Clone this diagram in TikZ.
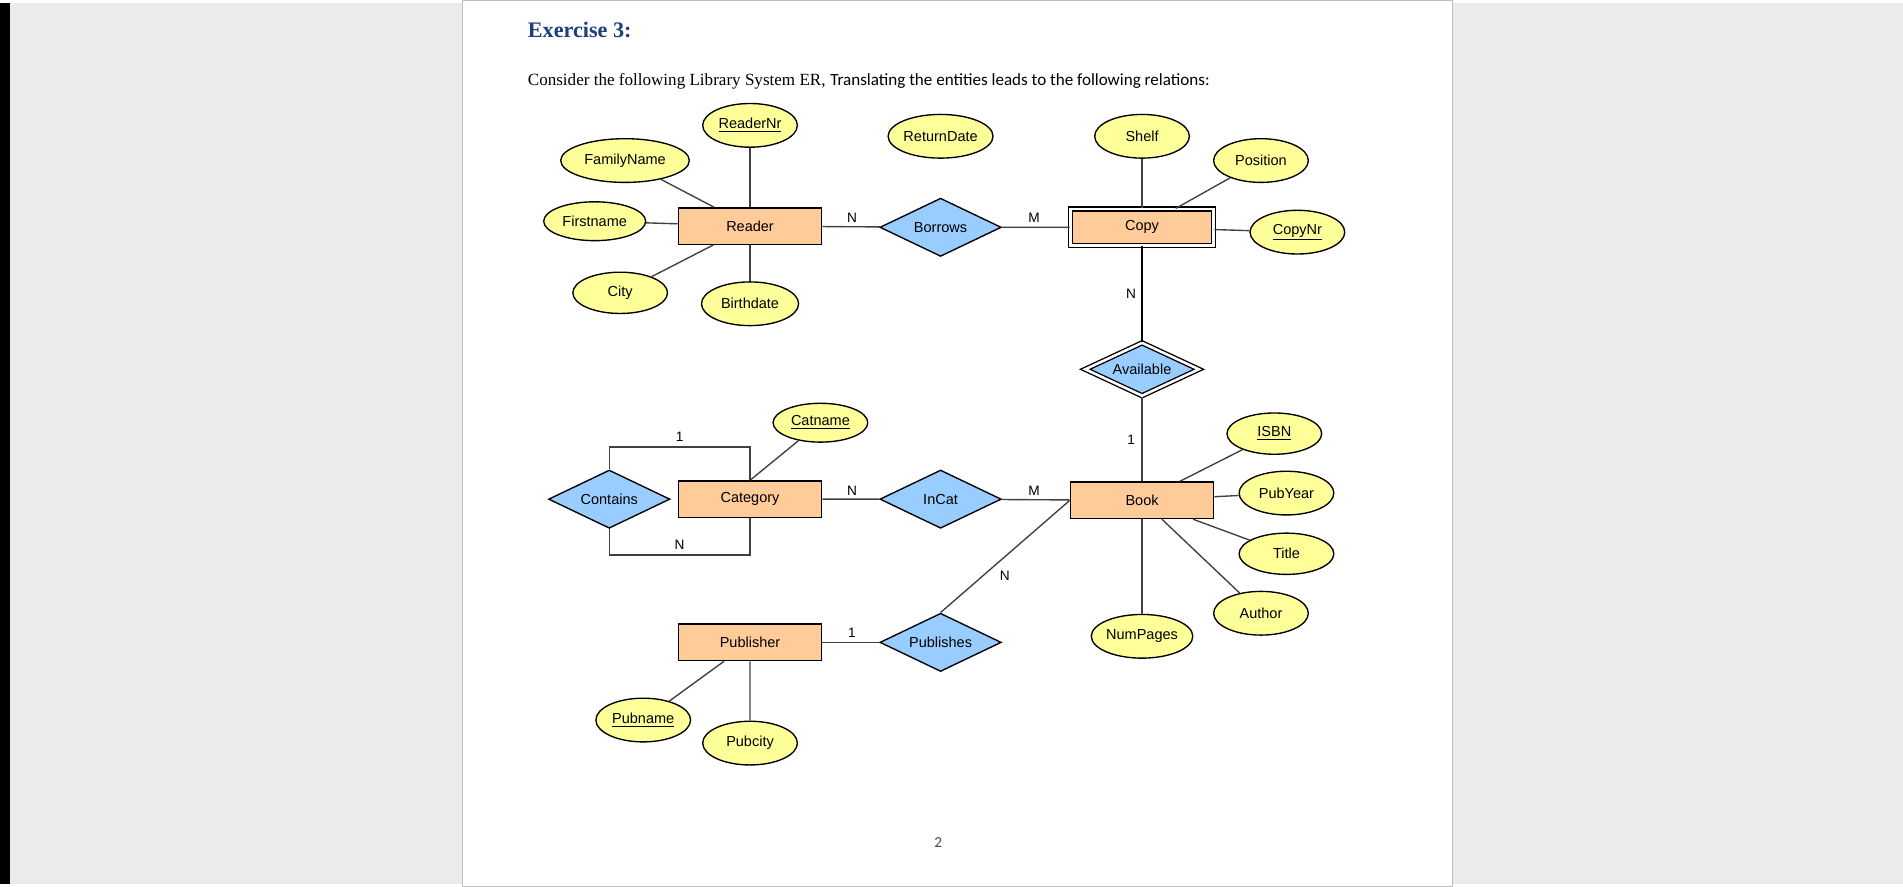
\documentclass[tikz,border=0pt]{standalone}
\usepackage{fontspec}
\setmainfont{Liberation Sans}
\newfontfamily\serifx{Liberation Serif}
\newfontfamily\calib{Carlito}
\usetikzlibrary{shapes.geometric}
\definecolor{ent}{HTML}{FFCC99}
\definecolor{rel}{HTML}{99CCFF}
\definecolor{att}{HTML}{FFFF99}
\definecolor{hdr}{HTML}{1F3F7A}
\begin{document}
\begin{tikzpicture}[x=0.025cm,y=-0.025cm,
  every node/.style={font=\fontsize{8.5}{10}\selectfont},
  ent/.style={draw,thick,fill=ent,minimum width=2.95cm,minimum height=0.75cm,inner sep=0},
  rel/.style={draw,thick,fill=rel,diamond,aspect=2.1,minimum width=2.5cm,minimum height=1.2cm,inner sep=0},
  att/.style={draw,thick,fill=att,ellipse,minimum width=1.95cm,minimum height=0.9cm,inner sep=0},
  ln/.style={thick,draw=black!75},
  card/.style={font=\fontsize{8}{9}\selectfont}]
\fill[black!8] (0,0) rectangle (1568,726);
\fill[black] (0,0) rectangle (8,726);
\fill[white,draw=black!25] (381,-2) rectangle (1197,728);
\node[anchor=west,font=\serifx\bfseries\fontsize{13}{15}\selectfont,text=hdr] (ex) at (430,22) {Exercise 3:};
\node[anchor=west,font=\fontsize{10}{12}\selectfont] (cons) at (430,65) {{\serifx Consider the following Library System ER,} {\calib Translating the entities leads to the following relations:}};
\node[font=\calib\fontsize{9}{10}\selectfont,text=black!70] (pg) at (773,692) {2};
% entities
\node[ent] (reader) at (618,184) {Reader};
\node[ent,double,double distance=1.5pt] (copy) at (941,185) {Copy};
\node[ent] (cat) at (618,409) {Category};
\node[ent] (book) at (941,410) {Book};
\node[ent] (pub) at (618,527) {Publisher};
% relationships
\node[rel] (bor) at (775,185) {Borrows};
\node[rel,double,double distance=1.5pt,minimum width=2.35cm,minimum height=1.1cm] (av) at (941,302) {Available};
\node[rel] (cont) at (502,409) {Contains};
\node[rel] (incat) at (775,409) {InCat};
\node[rel] (pubs) at (775,527) {Publishes};
% attributes
\node[att] (rnr) at (618,101) {\underline{ReaderNr}};
\node[att,minimum width=2.65cm] (fam) at (515,130) {FamilyName};
\node[att,minimum width=2.1cm,minimum height=0.8cm] (fn) at (490,180) {Firstname};
\node[att,minimum height=0.85cm] (city) at (511,239) {City};
\node[att,minimum width=2cm] (bd) at (618,248) {Birthdate};
\node[att,minimum width=2cm] (rd) at (775,110) {ReturnDate};
\node[att] (shelf) at (941,110) {Shelf};
\node[att] (posn) at (1039,130) {Position};
\node[att] (cnr) at (1069,189) {\underline{CopyNr}};
\node[att,minimum height=0.8cm] (catn) at (676,346) {\underline{Catname}};
\node[att,minimum height=0.85cm] (isbn) at (1050,355) {\underline{ISBN}};
\node[att] (py) at (1060,404) {PubYear};
\node[att,minimum height=0.85cm] (title) at (1060,454) {Title};
\node[att] (auth) at (1039,503) {Author};
\node[att] (np) at (941,522) {NumPages};
\node[att] (pn) at (530,591) {\underline{Pubname}};
\node[att] (pc) at (618,610) {Pubcity};
% connectors
\foreach \a in {rnr,fam,fn,city,bd} \draw[ln] (reader) -- (\a);
\draw[ln] (reader) -- (bor) (bor) -- (copy);
\foreach \a in {shelf,posn,cnr} \draw[ln] (copy) -- (\a);
\draw[line width=1.6pt] (copy) -- (av);
\draw[ln] (av) -- (book);
\draw[ln] (cat) -- (incat) (incat) -- (book);
\draw[ln] (cat.north) ++(0,0) -- (catn);
\draw[ln] (cont.north) -- (502,366) -- (618,366) -- (cat.north);
\draw[ln] (cont.south) -- (502,455) -- (618,455) -- (cat.south);
\foreach \a in {isbn,py,title,auth,np} \draw[ln] (book) -- (\a);
\draw[ln] (book.west) -- (pubs.north);
\draw[ln] (pub) -- (pubs);
\draw[ln] (pub) -- (pn) (pub) -- (pc);
% cardinalities
\node[card] (c1) at (702,177) {N};
\node[card] (c2) at (852,177) {M};
\node[card] (c3) at (932,240) {N};
\node[card] (c4) at (932,360) {1};
\node[card] (c5) at (560,358) {1};
\node[card] (c6) at (560,447) {N};
\node[card] (c7) at (702,402) {N};
\node[card] (c8) at (852,402) {M};
\node[card] (c9) at (828,472) {N};
\node[card] (c10) at (702,519) {1};
\end{tikzpicture}
\end{document}
